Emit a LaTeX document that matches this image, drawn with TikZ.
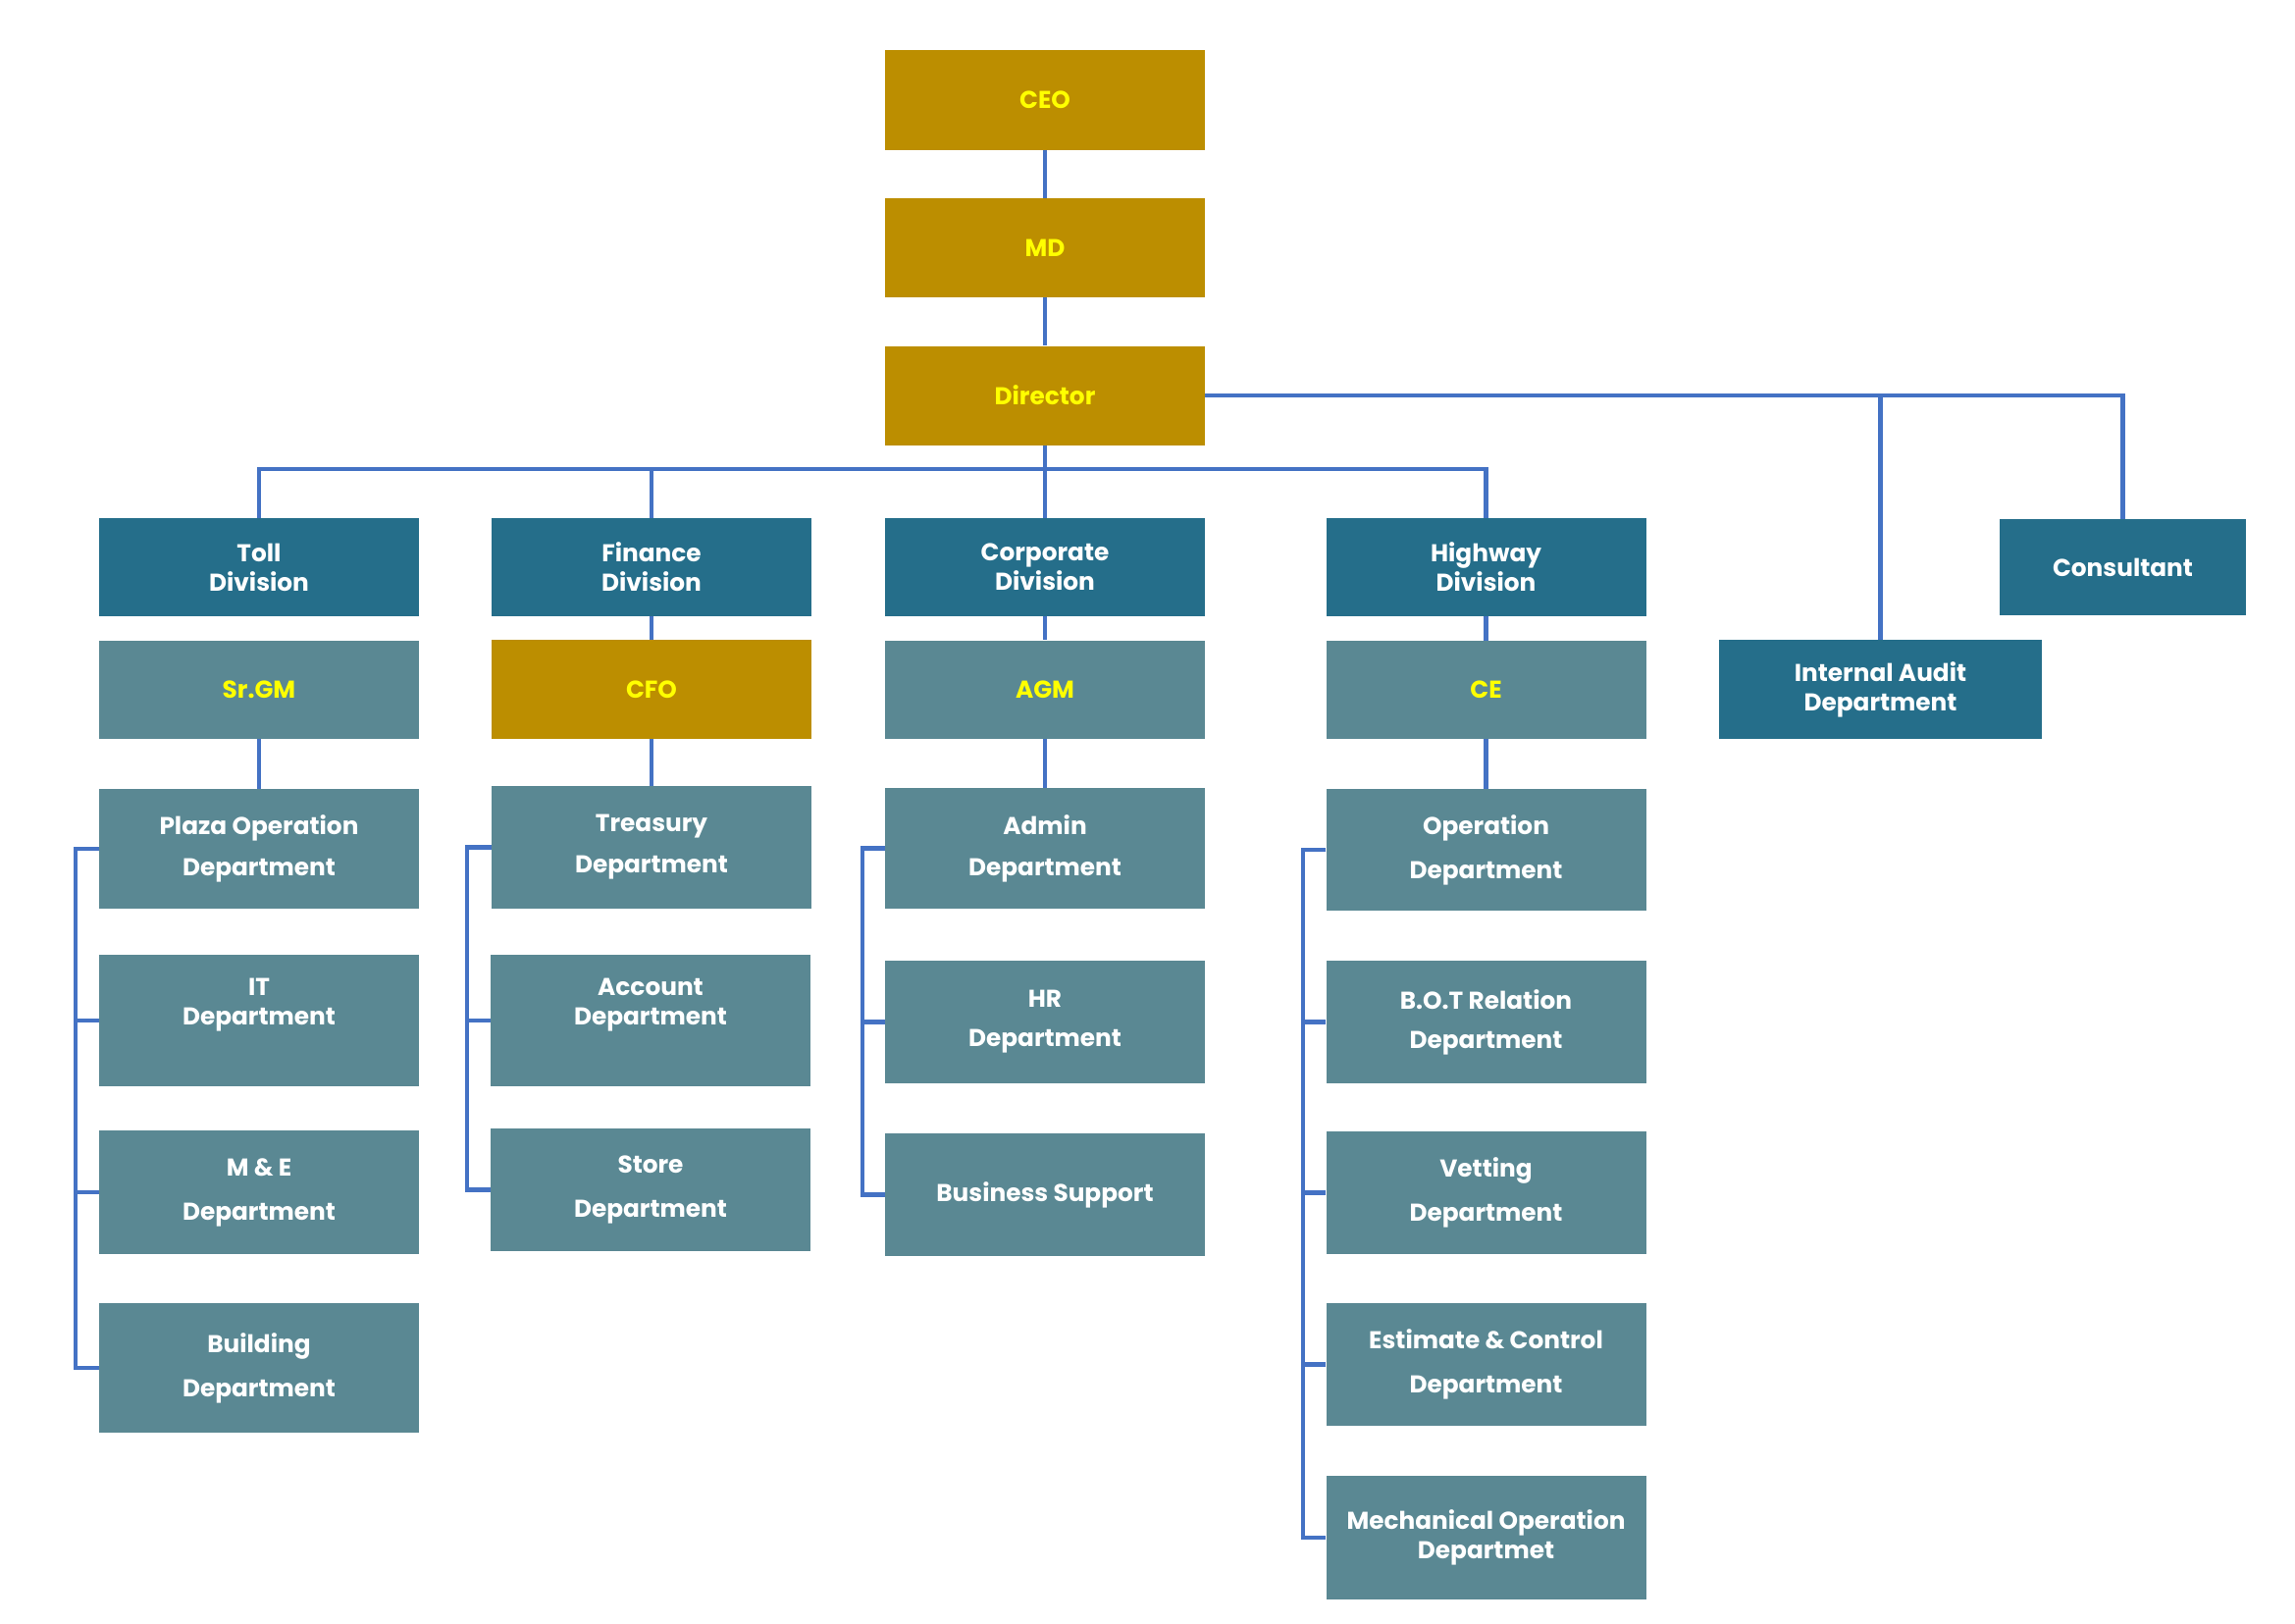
\documentclass[tikz,border=0pt]{standalone}
\usepackage{fontspec}
\setmainfont{Poppins}
\definecolor{cgold}{RGB}{188,142,0}
\definecolor{cyel}{RGB}{255,255,0}
\definecolor{cdark}{RGB}{37,110,138}
\definecolor{clight}{RGB}{90,136,147}
\definecolor{cline}{RGB}{68,114,196}
\newcommand\boxfont{\fontsize{24.8}{30}\selectfont\bfseries}
\tikzset{
  box/.style={rectangle, inner sep=0pt, minimum width=326pt, align=center, font=\boxfont, text=white},
  goldbox/.style={box, fill=cgold, text=cyel, minimum height=101pt},
  divbox/.style={box, fill=cdark, minimum height=100pt},
  mgrbox/.style={box, fill=clight, text=cyel, minimum height=100pt},
  deptbox/.style={box, fill=clight},
  txt/.style={inner sep=0pt, align=center, font=\boxfont, text=white},
  link/.style={draw=cline, line width=4.5pt}
}
\begin{document}
\begin{tikzpicture}[x=1pt,y=-1pt]
\useasboundingbox[fill=white] (0,0) rectangle (2339,1654);
% top
\node[goldbox] (ceo) at (1065,102) {CEO};
\node[goldbox] (md) at (1065,252.5) {MD};
\node[goldbox] (dir) at (1065,403) {Director};
% divisions
\node[divbox] (toll) at (264,578) {Toll\\Division};
\node[divbox] (fin) at (664,578) {Finance\\Division};
\node[divbox] (corp) at (1065,578) {Corporate\\Division};
\node[divbox] (hwy) at (1514.5,578) {Highway\\Division};
\node[divbox, minimum width=251pt, minimum height=98pt] (cons) at (2163.5,578) {Consultant};
\node[divbox, minimum width=329pt, minimum height=101pt] (audit) at (1916.5,702.5) {Internal Audit\\Department};
% managers
\node[mgrbox] (srgm) at (264,702.5) {Sr.GM};
\node[goldbox, minimum height=101pt] (cfo) at (664,702.5) {CFO};
\node[mgrbox] (agm) at (1065,702.5) {AGM};
\node[mgrbox] (ce) at (1514.5,703) {CE};
% toll departments
\node[deptbox, minimum height=122pt] (plaza) at (264,865) {Plaza Operation\\[12pt]Department};
\node[deptbox, minimum height=134pt] (it) at (264,1040) {};
\node[txt] (itt) at (264,1024) {IT\\Department};
\node[deptbox, minimum height=126pt] (me) at (264,1215) {M \& E\\[15pt]Department};
\node[deptbox, minimum height=132pt] (bld) at (264,1394) {Building\\[15pt]Department};
% finance departments
\node[deptbox, minimum height=125pt] (trs) at (664,863.5) {Treasury\\[12pt]Department};
\node[deptbox, minimum height=134pt] (acc) at (663,1040) {};
\node[txt] (acct) at (663,1024) {Account\\Department};
\node[deptbox, minimum height=125pt] (sto) at (663,1212.5) {Store\\[15pt]Department};
% corporate departments
\node[deptbox, minimum height=123pt] (adm) at (1065,864.5) {Admin\\[12pt]Department};
\node[deptbox, minimum height=125pt] (hr) at (1065,1041.5) {HR\\[10pt]Department};
\node[deptbox, minimum height=125pt] (bus) at (1065,1217.5) {Business Support};
% highway departments
\node[deptbox, minimum height=124pt] (opr) at (1514.5,866) {Operation\\[15pt]Department};
\node[deptbox, minimum height=125pt] (bot) at (1514.5,1041.5) {B.O.T Relation\\[10pt]Department};
\node[deptbox, minimum height=125pt] (vet) at (1514.5,1215.5) {Vetting\\[15pt]Department};
\node[deptbox, minimum height=125pt] (est) at (1514.5,1390.5) {Estimate \& Control\\[15pt]Department};
\node[deptbox, minimum height=126pt] (mech) at (1514.5,1567) {Mechanical Operation\\Departmet};
% connectors
\coordinate (busy) at (0,478);
\coordinate (tb) at (77,0);
\coordinate (fb) at (476,0);
\coordinate (cb) at (879,0);
\coordinate (hb) at (1328,0);
\draw[link] (ceo.south) -- (md.north);
\draw[link] (md.south) -- (dir.north);
\draw[link] (dir.south) -- (corp.north);
\draw[link] (toll.north) -- (toll.north |- busy) -- (hwy.north |- busy) -- (hwy.north);
\draw[link] (fin.north) -- (fin.north |- busy);
\draw[link] (dir.east) -- (dir.east -| cons.north) -- (cons.north);
\draw[link] (audit.north) -- (audit.north |- dir.east);
\draw[link] (fin.south) -- (cfo.north);
\draw[link] (corp.south) -- (agm.north);
\draw[link] (hwy.south) -- (ce.north);
\draw[link] (srgm.south) -- (plaza.north);
\draw[link] (cfo.south) -- (trs.north);
\draw[link] (agm.south) -- (adm.north);
\draw[link] (ce.south) -- (opr.north);
% brackets
\draw[link] (plaza.west) -- (plaza.west -| tb) -- (bld.west -| tb) -- (bld.west);
\draw[link] (it.west) -- (it.west -| tb);
\draw[link] (me.west) -- (me.west -| tb);
\draw[link] (trs.west) -- (trs.west -| fb) -- (sto.west -| fb) -- (sto.west);
\draw[link] (acc.west) -- (acc.west -| fb);
\draw[link] (adm.west) -- (adm.west -| cb) -- (bus.west -| cb) -- (bus.west);
\draw[link] (hr.west) -- (hr.west -| cb);
\draw[link] (opr.west) -- (opr.west -| hb) -- (mech.west -| hb) -- (mech.west);
\draw[link] (bot.west) -- (bot.west -| hb);
\draw[link] (vet.west) -- (vet.west -| hb);
\draw[link] (est.west) -- (est.west -| hb);
\end{tikzpicture}
\end{document}
